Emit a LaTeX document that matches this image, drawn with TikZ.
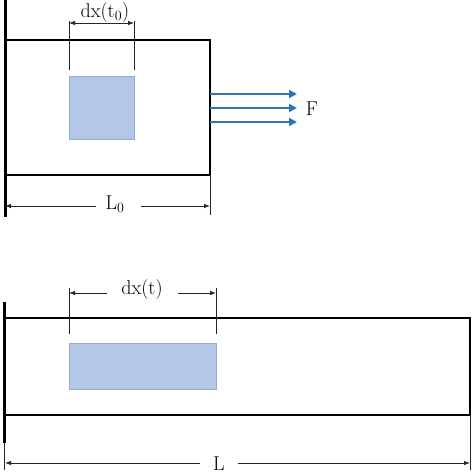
\documentclass[tikz,border=0pt]{standalone}
\usetikzlibrary{arrows.meta, positioning}
\definecolor{elemfill}{HTML}{B4C7E7}
\definecolor{elemedge}{HTML}{8FAADC}
\definecolor{forceblue}{HTML}{2E75B6}
\tikzset{
  wall/.style={draw=black, line width=3pt},
  bar/.style={draw=black, line width=2.2pt},
  element/.style={draw=elemedge, fill=elemfill, line width=0.8pt},
  dimline/.style={draw=black!85, line width=0.8pt},
  dimarrow/.style={dimline, -{Latex[length=6pt,width=4.5pt]}},
  dimboth/.style={dimline, {Latex[length=6pt,width=4.5pt]}-{Latex[length=6pt,width=4.5pt]}},
  force/.style={draw=forceblue, line width=1.8pt, -{Triangle[length=8pt,width=8pt]}},
  dimlabel/.style={font=\fontsize{20}{24}\selectfont, inner sep=0.5pt}
}

\begin{document}
\begin{tikzpicture}[x=1pt, y=-1pt]
\useasboundingbox (0,0) rectangle (474,474);

%% top: bar at t_0
\draw[bar] (5,40) rectangle (210,175);
\draw[element] (69,76) rectangle (134,139);
\draw[wall] (5,0) -- (5,217);

% nodes
\node[dimlabel, anchor=base] (dx0) at (105,17) {dx(t\textsubscript{0})};
\node[dimlabel] (L0) at (115,204) {L\textsubscript{0}};
\node[dimlabel] (F) at (312,109) {F};

\coordinate (e0a) at (69,21);  \coordinate (e0b) at (69,70);
\coordinate (e1a) at (134,21); \coordinate (e1b) at (134,70);
\coordinate (d0l) at (69,23);  \coordinate (d0r) at (134,23);
\coordinate (x0) at (210,175); \coordinate (x1) at (210,215);
\coordinate (L0l) at (5,206);  \coordinate (L0r) at (210,206);
\coordinate (g0l) at (96,206); \coordinate (g0r) at (141,206);

% edges
\draw[dimline] (e0a) -- (e0b);
\draw[dimline] (e1a) -- (e1b);
\draw[dimboth] (d0l) -- (d0r);
\draw[dimline] (x0) -- (x1);
\draw[dimarrow] (g0l) -- (L0l);
\draw[dimarrow] (g0r) -- (L0r);

\foreach \y in {94,108,122}
  \draw[force] (210,\y) -- (297,\y);

%% bottom: bar at t
\draw[bar] (5,318) rectangle (470,415);
\draw[element] (69,343) rectangle (216,389);
\draw[wall] (4,302) -- (4,443);

% nodes
\node[dimlabel] (dx) at (142,290) {dx(t)};
\node[dimlabel, anchor=base] (L) at (219,470) {L};

\coordinate (e2a) at (69,288);  \coordinate (e2b) at (69,334);
\coordinate (e3a) at (216,288); \coordinate (e3b) at (216,334);
\coordinate (dl) at (69,293);   \coordinate (dr) at (216,293);
\coordinate (gl) at (107,293);  \coordinate (gr) at (178,293);
\coordinate (w0) at (4,443);    \coordinate (w1) at (4,470);
\coordinate (x2) at (470,415);  \coordinate (x3) at (470,470);
\coordinate (Ll) at (5,463);    \coordinate (Lr) at (470,463);
\coordinate (hl) at (200,463);  \coordinate (hr) at (238,463);

% edges
\draw[dimline] (e2a) -- (e2b);
\draw[dimline] (e3a) -- (e3b);
\draw[dimarrow] (gl) -- (dl);
\draw[dimarrow] (gr) -- (dr);
\draw[dimline] (w0) -- (w1);
\draw[dimline] (x2) -- (x3);
\draw[dimarrow] (hl) -- (Ll);
\draw[dimarrow] (hr) -- (Lr);

\end{tikzpicture}
\end{document}
